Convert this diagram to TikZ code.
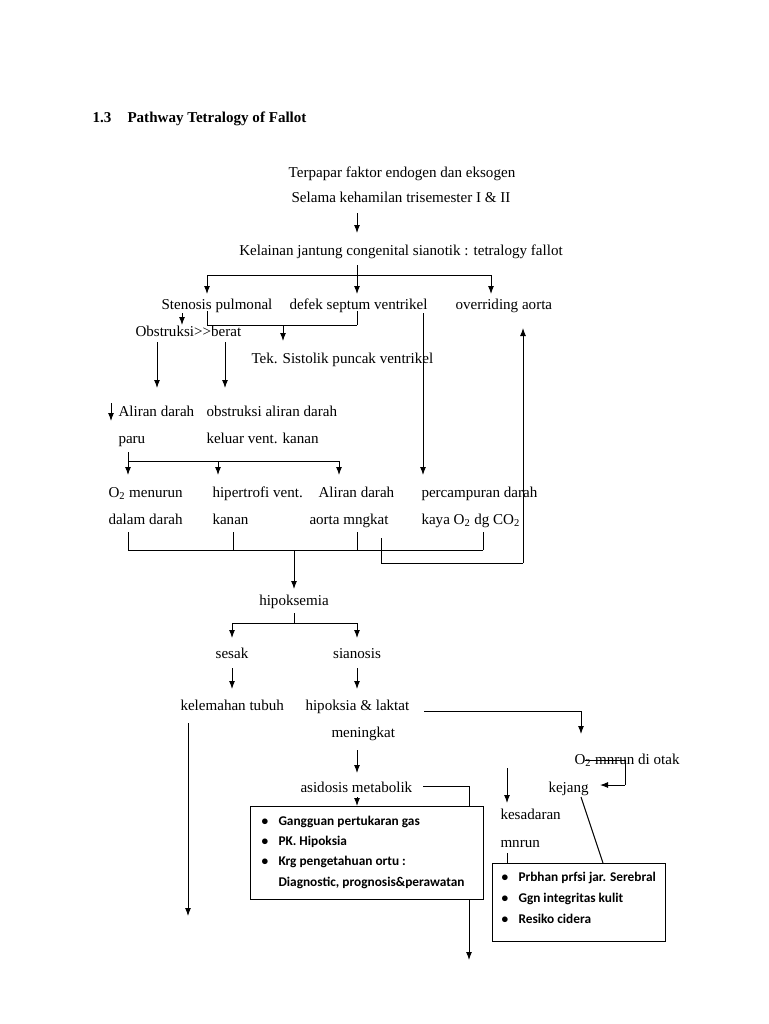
\documentclass[tikz,border=0pt]{standalone}
\usepackage{fontspec}
\setmainfont{Liberation Serif}
\newfontfamily\boxfont{Carlito}
\usepackage{tikz}
\usetikzlibrary{arrows.meta}

\tikzset{
	txt/.style={font=\fontsize{11.3}{13}\selectfont, inner sep=0pt, text height=8pt, text depth=2.5pt, yshift=-1.5pt},
	lbl/.style={txt, anchor=west},
	ttl/.style={lbl, font=\fontsize{11.3}{13}\selectfont\bfseries},
	itm/.style={anchor=west, inner sep=0pt, font=\boxfont\bfseries\fontsize{10}{12}\selectfont, text height=7.5pt, text depth=2.5pt, yshift=-1pt},
	arr/.style={-{Latex[length=6pt,width=4.5pt]}},
	boks/.style={draw, fill=white}
}

\begin{document}
\begin{tikzpicture}[x=0.75pt, y=-0.75pt, line width=0.75pt]
				\useasboundingbox (0,0) rectangle (768,1024);
				
				% title
				\node[ttl] (nr) at (92,117) {1.3};
				\node[ttl] (judul) at (127,117) {Pathway Tetralogy of Fallot};
				
				% top
				\node[txt] (terpapar) at (402,172) {Terpapar faktor endogen dan eksogen};
				\node[txt] (selama) at (401,197) {Selama kehamilan trisemester I \& II};
				\node[txt] (kelainan) at (401,250) {Kelainan jantung congenital sianotik : tetralogy fallot};
				
				\node[lbl] (sp) at (161,304) {Stenosis pulmonal};
				\node[lbl] (dsv) at (289,304) {defek septum ventrikel};
				\node[lbl] (oa) at (455,304) {overriding aorta};
				\node[lbl] (obs) at (135,331) {Obstruksi>{}>berat};
				\node[lbl] (tek) at (251,358) {Tek. Sistolik puncak ventrikel};
				
				\node[lbl] (aliran) at (118,411) {Aliran darah};
				\node[lbl] (paru) at (118,438) {paru};
				\node[lbl] (obsal) at (206,411) {obstruksi aliran darah};
				\node[lbl] (keluar) at (206,438) {keluar vent. kanan};
				
				% middle row
				\node[lbl] (o2a) at (108,492) {O\textsubscript{2} menurun};
				\node[lbl] (o2b) at (108,519) {dalam darah};
				\node[lbl] (hipa) at (212,492) {hipertrofi vent.};
				\node[lbl] (hipb) at (212,519) {kanan};
				\node[lbl] (aoa) at (318,492) {Aliran darah};
				\node[lbl] (aob) at (309,519) {aorta mngkat};
				\node[lbl] (pca) at (421,492) {percampuran darah};
				\node[lbl] (pcb) at (421,519) {kaya O\textsubscript{2} dg CO\textsubscript{2}};
				
				\node[txt] (hipoksemia) at (294,600) {hipoksemia};
				\node[txt] (sesak) at (232,653) {sesak};
				\node[txt] (sianosis) at (357,653) {sianosis};
				\node[lbl] (lemah) at (180,705) {kelemahan tubuh};
				\node[lbl] (laktat) at (305,705) {hipoksia \& laktat};
				\node[lbl] (ningkat) at (331,732) {meningkat};
				\node[lbl] (asidosis) at (300,787) {asidosis metabolik};
				
				% right side
				\node[lbl] (otak) at (574,759) {O\textsubscript{2} mnrun di otak};
				\node[lbl] (kejang) at (548,787) {kejang};
				\node[lbl] (sadar) at (500,814) {kesadaran};
				\node[lbl] (mnrun) at (500,842) {mnrun};
				
				\foreach \x/\y in
				{t1/{357,213}, t2/{357,233}, k1/{357,265}, k2/{357,275}, h1/{207,275}, h2/{491,275},
				 s1/{207,294}, s2/{357,294}, s3/{491,294},
				 m1/{182,313}, m2/{182,325},
				 b1/{207,311}, b2/{207,325}, b3/{357,325}, b4/{357,311}, b5/{283,325}, b6/{283,341},
				 c1/{157,342}, c2/{157,388}, c3/{225,342}, c4/{225,388},
				 p1/{111,403}, p2/{111,421},
				 d1/{423,313}, d2/{423,475},
				 q1/{128,452}, q2/{128,461}, q3/{218,461}, q4/{339,461},
				 r1/{128,475}, r2/{218,475}, r3/{339,475}}{
					\coordinate(\x) at (\y);
				}
				\foreach \x/\y in
				{e1/{128,532}, e2/{128,550}, e3/{483,550}, e4/{483,532}, e5/{233,532}, e6/{233,550},
				 e7/{357,532}, e8/{357,550}, e9/{294,550}, e10/{294,589},
				 f1/{381,538}, f2/{381,563}, f3/{523,563}, f4/{523,328},
				 g1/{294,613}, g2/{294,623}, g3/{232,623}, g4/{357,623}, g5/{232,638}, g6/{357,638},
				 g7/{232,668}, g8/{232,689}, g9/{357,668}, g10/{357,689},
				 l1/{188,723}, l2/{188,916},
				 x1/{424,711}, x2/{581,711}, x3/{581,734},
				 a1/{357,750}, a2/{357,773}, a3/{357,797}, a4/{357,806},
				 a5/{423,786}, a6/{469,786}, a7/{469,960},
				 o1/{585,760}, o2/{625,760}, o3/{625,785}, o4/{600,785},
				 n1/{507,768}, n2/{507,803}, n3/{507,853}, n4/{507,863},
				 j1/{581,797}, j2/{603,863}}{
					\coordinate(\x) at (\y);
				}
				
				% plain lines
				\foreach \x/\y in
				{k1/k2, h1/h2, b1/b2, b2/b3, b3/b4, q1/q2, q2/q4,
				 e1/e2, e2/e3, e3/e4, e5/e6, e7/e8, f1/f2, f2/f3,
				 g1/g2, g3/g4, x1/x2, a5/a6, o1/o2, o2/o3, n3/n4, j1/j2}{
					\draw (\x)--(\y);
				}
				
				% arrows
				\foreach \x/\y in
				{t1/t2, h1/s1, k2/s2, h2/s3, m1/m2, b5/b6, c1/c2, c3/c4, p1/p2, d1/d2,
				 q2/r1, q3/r2, q4/r3, e9/e10, f3/f4, g3/g5, g4/g6, g7/g8, g9/g10,
				 l1/l2, x2/x3, a1/a2, a3/a4, a6/a7, o3/o4, n1/n2}{
					\draw[arr] (\x)--(\y);
				}
				
				% boxes
				\node[boks, minimum width=174.75pt, minimum height=69.75pt, anchor=north west] (kotak1) at (250,806) {};
				\node[boks, minimum width=129.75pt, minimum height=58.5pt, anchor=north west] (kotak2) at (492,863) {};
				
				\foreach \y/\t in
				{821/Gangguan pertukaran gas, 841/PK. Hipoksia, 861/Krg pengetahuan ortu :}{
					\node[itm] at (261,\y) {\textbullet};
					\node[itm] at (278,\y) {\t};
				}
				\node[itm] (diag) at (278,882) {Diagnostic, prognosis\&perawatan};
				
				\foreach \y/\t in
				{877/Prbhan prfsi jar. Serebral, 898/Ggn integritas kulit, 919/Resiko cidera}{
					\node[itm] at (501,\y) {\textbullet};
					\node[itm] at (518,\y) {\t};
				}
			\end{tikzpicture}
\end{document}
